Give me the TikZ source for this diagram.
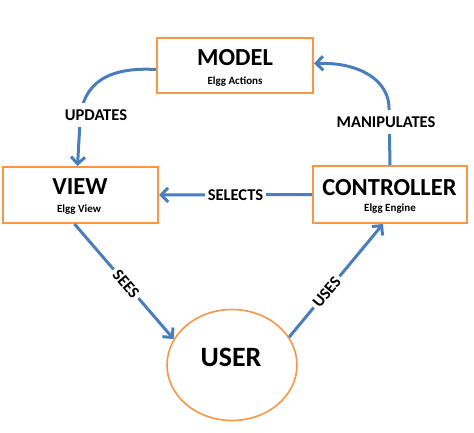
\documentclass[tikz,border=0pt]{standalone}
\usepackage{fontspec}
\setmainfont{Carlito}
\usetikzlibrary{arrows.meta,shapes.geometric}
\definecolor{boxorange}{HTML}{F79646}
\definecolor{arrowblue}{HTML}{4A7EBB}
\begin{document}
\begin{tikzpicture}[x=1pt,y=-1pt,
  box/.style={draw=boxorange,line width=2pt,fill=white,rectangle,inner sep=0pt},
  ubox/.style={draw=boxorange,line width=1.6pt,fill=white,ellipse,inner sep=0pt},
  title/.style={font=\bfseries\fontsize{24.5}{28}\selectfont,inner sep=0pt},
  sub/.style={font=\bfseries\fontsize{11}{13}\selectfont,inner sep=0pt},
  flow/.style={draw=arrowblue,line width=3pt,-{Straight Barb[length=7pt,width=14pt]}},
  lbl/.style={font=\bfseries\fontsize{16.5}{19}\selectfont,fill=white,inner xsep=3pt,inner ysep=7pt}
]
\useasboundingbox (0,0) rectangle (474,432);

% boxes
\node[box,minimum width=156pt,minimum height=55pt] (model) at (235,65.5) {};
\node[title] (modelt) at (235,58) {MODEL};
\node[sub] (models) at (235,82) {Elgg Actions};

\node[box,minimum width=155pt,minimum height=56pt] (view) at (80.5,195) {};
\node[title] (viewt) at (80,187) {VIEW};
\node[sub] (views) at (79,210) {Elgg View};

\node[box,minimum width=154pt,minimum height=57pt] (controller) at (390,194.5) {};
\node[title] (controllert) at (389.5,187.5) {CONTROLLER};
\node[sub] (controllers) at (390,209) {Elgg Engine};

\node[ubox,minimum width=130pt,minimum height=111pt] (user) at (232,365) {};
\node[title,font=\bfseries\fontsize{28}{32}\selectfont] (usert) at (231,357) {USER};

% connectors
\draw[flow] ([yshift=-4pt]model.west) .. controls (112,67) and (82,80) .. (80,122)
  -- ([xshift=-3pt]view.north);
\node[lbl] (updates) at (96,115) {UPDATES};

\draw[flow] (controller.north) -- (389,108) .. controls (389,82) and (362,62) .. ([yshift=2pt]model.east);
\node[lbl] (manip) at (386,122) {MANIPULATES};

\draw[flow] (controller.west) -- node[lbl] (selects) {SELECTS} (view.east);

\draw[flow] ([xshift=-6pt]view.south) -- node[lbl,sloped,pos=0.52] (sees) {SEES} (user.156);

\draw[flow] (user.26) -- node[lbl,sloped,pos=0.4] (uses) {USES} ([xshift=-7pt]controller.south);
\end{tikzpicture}
\end{document}
